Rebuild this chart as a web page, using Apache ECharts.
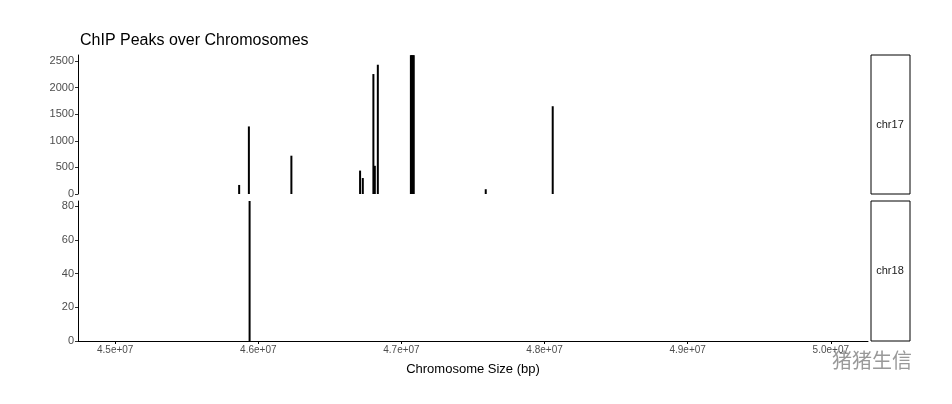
<!DOCTYPE html><html><head><meta charset="utf-8"><script src="https://cdn.jsdelivr.net/npm/echarts@6/dist/echarts.min.js"></script></head><body style="margin:0;background:#fff"><div id="c" style="width:952px;height:404px"></div><script>
const chr17Pos=[45866000,45934000,46231000,46711000,46730000,46804000,46814000,46835000,47066000,47072000,47079000,47086000,47589000,48057000];
const chr17Val=[170,1270,720,440,300,2255,530,2430,2610,2610,2610,2610,90,1650];
const chr18Pos=[45939000];
const chr18Val=[83];
const xTicks=[45000000,46000000,47000000,48000000,49000000,50000000];
const xMin=44740000,xMax=50260000;
const fmt=v=>{const e=Math.floor(Math.log10(v));return (v/Math.pow(10,e)).toFixed(1)+'e+'+String(e).padStart(2,'0');};
const ax={type:'value',min:xMin,max:xMax,axisLine:{lineStyle:{color:'#000'}},splitLine:{show:false}};
const yax={axisLine:{show:true,lineStyle:{color:'#000'}},axisTick:{show:true,length:3,lineStyle:{color:'#333'}},axisLabel:{color:'#4d4d4d',fontSize:11,margin:4,formatter:v=>String(v)},splitLine:{show:false}};
const chart=echarts.init(document.getElementById('c'));
chart.setOption({animation:false,
title:{text:'ChIP Peaks over Chromosomes',left:75,top:28,textStyle:{fontSize:16,fontWeight:'normal',color:'#000',fontFamily:'Liberation Sans'}},
grid:[{left:78,right:84,top:55,height:139},{left:78,right:84,top:201,height:140}],
xAxis:[Object.assign({},ax,{gridIndex:0,axisLine:{show:false},axisTick:{show:false},axisLabel:{show:false}}),
Object.assign({},ax,{gridIndex:1,name:'Chromosome Size (bp)',nameLocation:'middle',nameGap:22,nameTextStyle:{fontSize:13,color:'#000'},axisTick:{show:true,length:3,customValues:xTicks},axisLabel:{color:'#4d4d4d',fontSize:10,margin:4,customValues:xTicks,formatter:fmt}})],
yAxis:[Object.assign({},yax,{gridIndex:0,type:'value',min:0,max:2613,interval:500}),Object.assign({},yax,{gridIndex:1,type:'value',min:0,max:83,interval:20})],
series:[{type:'bar',xAxisIndex:0,yAxisIndex:0,barWidth:2,itemStyle:{color:'#000'},data:chr17Pos.map((p,i)=>[p,chr17Val[i]])},
{type:'bar',xAxisIndex:1,yAxisIndex:1,barWidth:2,itemStyle:{color:'#000'},data:chr18Pos.map((p,i)=>[p,chr18Val[i]])}],
graphic:[{type:'rect',shape:{x:871,y:55,width:39,height:139},style:{fill:'#fff',stroke:'#000',lineWidth:1}},
{type:'text',x:890,y:125,style:{text:'chr17',fontSize:11,fill:'#1a1a1a',align:'center',verticalAlign:'middle'}},
{type:'rect',shape:{x:871,y:201,width:39,height:140},style:{fill:'#fff',stroke:'#000',lineWidth:1}},
{type:'text',x:890,y:271,style:{text:'chr18',fontSize:11,fill:'#1a1a1a',align:'center',verticalAlign:'middle'}},
{type:'text',x:832,y:350,style:{text:'猪猪生信',fontSize:20,fill:'#999',fontFamily:'Noto Sans CJK SC'}}]
});
</script></body></html>
